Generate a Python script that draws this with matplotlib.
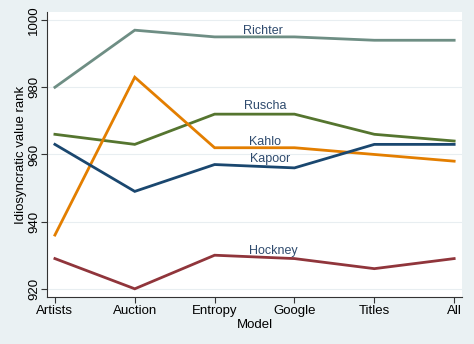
import matplotlib.pyplot as plt

models = ['Artists', 'Auction', 'Entropy', 'Google', 'Titles', 'All']
richter = [980, 997, 995, 995, 994, 994]
ruscha = [966, 963, 972, 972, 966, 964]
kahlo = [936, 983, 962, 962, 960, 958]
kapoor = [963, 949, 957, 956, 963, 963]
hockney = [929, 920, 930, 929, 926, 929]

series = [('Richter', richter, '#6E8E84', 3.6, 996.8),
          ('Ruscha', ruscha, '#55752F', 3.64, 974.4),
          ('Kahlo', kahlo, '#E37E00', 3.63, 963.8),
          ('Kapoor', kapoor, '#1A476F', 3.69, 958.6),
          ('Hockney', hockney, '#90353B', 3.74, 931.3)]

plt.rcParams['font.family'] = ['Liberation Sans', 'DejaVu Sans']

fig = plt.figure(figsize=(4.74, 3.44), dpi=100)
fig.patch.set_facecolor('#EAF1F3')
ax = fig.add_axes([0.099, 0.137, 0.876, 0.828])
ax.set_facecolor('white')

x = list(range(1, len(models) + 1))
for name, vals, col, lx, ly in series:
    ax.plot(x, vals, color=col, lw=2.0, solid_joinstyle='miter')
    ax.text(lx, ly, name, color='#2F4B6E', fontsize=9, ha='center', va='center')

ax.set_xlim(0.9, 6.1)
ax.set_ylim(917.6, 1002.4)
ax.set_xticks(x)
ax.set_xticklabels(models, fontsize=9.5)
ax.set_yticks([920, 940, 960, 980, 1000])
ax.set_yticklabels(['920', '940', '960', '980', '1000'], rotation=90, va='center', fontsize=9.5)
ax.grid(axis='y', color='#E8EEF1', lw=0.8)
ax.set_axisbelow(True)
for s in ['top', 'right']:
    ax.spines[s].set_visible(False)
for s in ['left', 'bottom']:
    ax.spines[s].set_color('#333333')
    ax.spines[s].set_linewidth(0.8)
ax.tick_params(length=4, width=0.8, color='#333333', pad=2)
ax.tick_params(axis='y', pad=1)
ax.set_xlabel('Model', fontsize=9.5, labelpad=1)
ax.set_ylabel('Idiosyncratic value rank', fontsize=9.5, labelpad=1)

fig.savefig('out.png', dpi=100, facecolor=fig.get_facecolor())
